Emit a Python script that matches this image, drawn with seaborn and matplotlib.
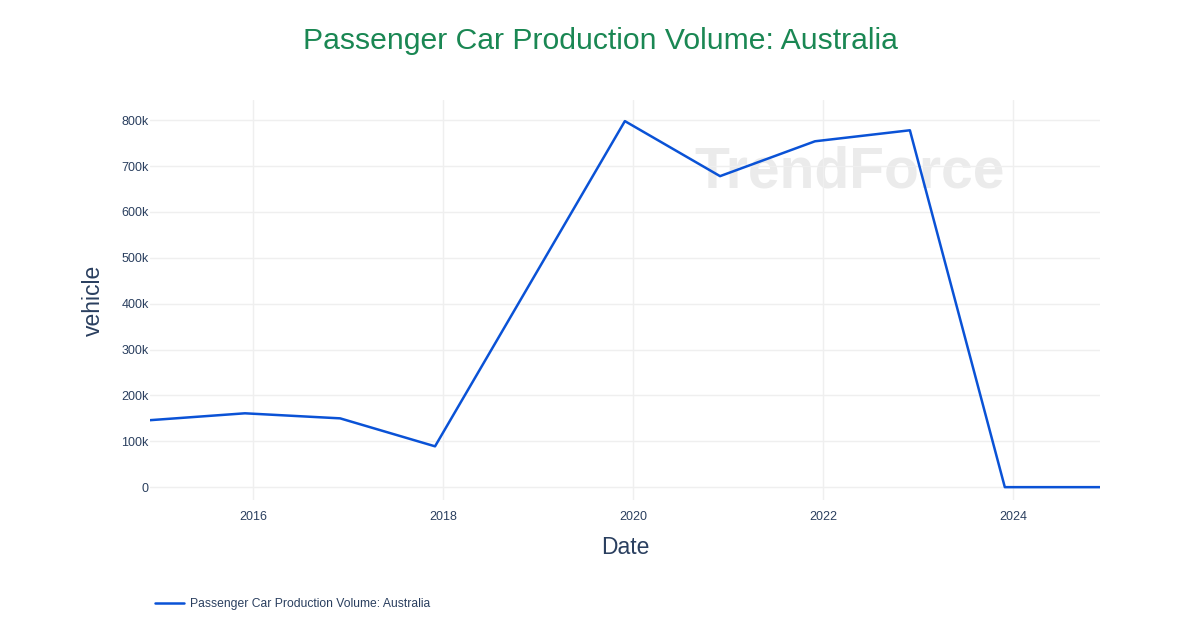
import matplotlib
matplotlib.use("Agg")
import matplotlib.pyplot as plt
import seaborn as sns
import pandas as pd
from matplotlib.lines import Line2D

dates = ["2014-12-01", "2015-12-01", "2016-12-01", "2017-12-01", "2019-12-01",
         "2020-12-01", "2021-12-01", "2022-12-01", "2023-12-01", "2024-12-01"]
values = [146000, 161000, 150000, 89000, 798000, 678000, 754000, 778000, 0, 0]
series_name = "Passenger Car Production Volume: Australia"
y_ticks = [0, 100000, 200000, 300000, 400000, 500000, 600000, 700000, 800000]
y_tick_labels = ["0", "100k", "200k", "300k", "400k", "500k", "600k", "700k", "800k"]
x_tick_years = [2016, 2018, 2020, 2022, 2024]

df = pd.DataFrame({"Date": pd.to_datetime(dates), "value": values, "series": series_name})

sns.set_style("white")
plt.rcParams["font.family"] = ["Liberation Sans", "DejaVu Sans"]

text_color = "#2a3f5f"
grid_color = "#efefef"
line_color = "#0a52d6"

fig = plt.figure(figsize=(12, 6.3), dpi=100)
ax = fig.add_axes([150 / 1200, 1 - 500 / 630, 950 / 1200, 400 / 630])
ax.set_zorder(2)
ax.patch.set_alpha(0)

# watermark (behind the plot)
fig.text(850 / 1200, 1 - 173 / 630, "TrendForce", fontsize=41, fontweight="bold",
         color="#ebebeb", ha="center", va="center", zorder=0)

sns.lineplot(data=df, x="Date", y="value", hue="series", palette=[line_color],
             linewidth=1.8, ax=ax, legend=False, zorder=3)

ax.set_xlim(pd.Timestamp(dates[0]), pd.Timestamp(dates[-1]))
ax.set_ylim(-28000, 844000)

ax.set_yticks(y_ticks)
ax.set_yticklabels(y_tick_labels)
ax.set_xticks([pd.Timestamp(f"{y}-01-01") for y in x_tick_years])
ax.set_xticklabels([str(y) for y in x_tick_years])

for s in ax.spines.values():
    s.set_visible(False)
ax.grid(True, color=grid_color, linewidth=1)
ax.tick_params(axis="both", length=0, labelsize=9, colors=text_color)
ax.tick_params(axis="y", pad=1)
ax.tick_params(axis="x", pad=8)

ax.set_xlabel("Date", fontsize=16.5, color=text_color, labelpad=9)
ax.set_ylabel("vehicle", fontsize=16.5, color=text_color, labelpad=12)

fig.suptitle(series_name, x=0.5, y=1 - 41 / 630, va="center",
             fontsize=21.7, color="#1a8753")

handle = Line2D([0], [0], color=line_color, linewidth=1.8)
fig.legend([handle], [series_name], loc="center left",
           bbox_to_anchor=(144 / 1200, 1 - 604 / 630), frameon=False,
           fontsize=8.75, labelcolor=text_color, handlelength=2.4, handletextpad=0.45)

fig.savefig("out.png", dpi=100)
